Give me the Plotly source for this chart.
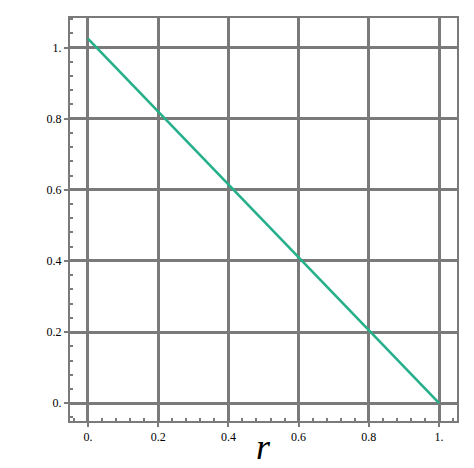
import plotly.graph_objects as go

r_vals = [0.0, 0.2, 0.4, 0.6, 0.8, 1.0]
f_vals = [1.025, 0.82, 0.615, 0.41, 0.205, 0.0]
tick_vals = [0, 0.2, 0.4, 0.6, 0.8, 1.0]
tick_text = ["0.", "0.2", "0.4", "0.6", "0.8", "1."]

grid_col = "#7a7a7a"

fig = go.Figure()
fig.add_trace(go.Scatter(x=r_vals, y=f_vals, mode="lines",
                         line=dict(color="#26b08a", width=2.6), showlegend=False))

axis_common = dict(
    tickvals=tick_vals, ticktext=tick_text,
    showgrid=True, gridcolor=grid_col, gridwidth=2.5,
    showline=True, linecolor=grid_col, linewidth=2, mirror=True,
    ticks="outside", ticklen=4, tickcolor=grid_col, tickwidth=2,
    zeroline=False,
    tickfont=dict(family="Liberation Serif", size=12, color="black"),
    minor=dict(dtick=0.04, ticks="inside", ticklen=3, tickcolor=grid_col, tickwidth=1.5, showgrid=False),
)

fig.update_xaxes(range=[-0.051, 1.051], **axis_common)
fig.update_yaxes(range=[-0.05, 1.083], **axis_common)

fig.add_annotation(text="<i>r</i>", x=0.5, y=-0.065, xref="paper", yref="paper",
                   xanchor="center", yanchor="middle", showarrow=False,
                   font=dict(family="Liberation Serif", size=36, color="black"))

fig.update_layout(width=474, height=468, margin=dict(l=70, r=17, t=18, b=47),
                  plot_bgcolor="white", paper_bgcolor="white")

fig.write_html("out.html", config={"displayModeBar": False},
               post_script="document.body.style.margin='0';document.body.style.overflow='hidden';")
